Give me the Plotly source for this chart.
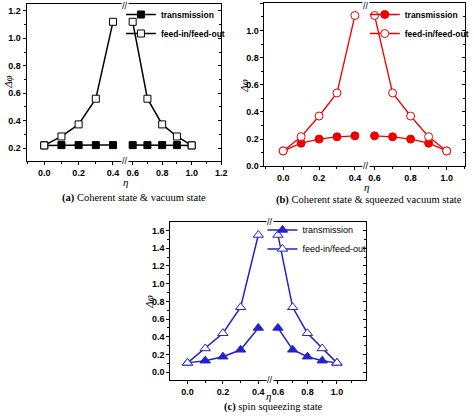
import plotly.graph_objects as go

W, H = 474, 419

# ---------------- data ----------------
eta = [0.0, 0.1, 0.2, 0.3, 0.4, 0.6, 0.7, 0.8, 0.9, 1.0]

a_trans = [0.22, 0.222, 0.222, 0.222, 0.222, 0.222, 0.222, 0.222, 0.222, 0.22]
a_feed = [0.22, 0.285, 0.373, 0.56, 1.12, 1.12, 0.56, 0.373, 0.285, 0.22]

b_trans = [0.113, 0.17, 0.20, 0.217, 0.224, 0.224, 0.217, 0.20, 0.17, 0.113]
b_feed = [0.113, 0.218, 0.37, 0.54, 1.11, 1.11, 0.54, 0.37, 0.218, 0.113]

c_trans = [0.105, 0.13, 0.175, 0.253, 0.50, 0.50, 0.253, 0.175, 0.13, 0.105]
c_feed = [0.105, 0.268, 0.44, 0.733, 1.55, 1.55, 0.733, 0.44, 0.268, 0.105]

series_names = ["transmission", "feed-in/feed-out"]
captions = ["<b>(a)</b> Coherent state & vacuum state",
            "<b>(b)</b> Coherent state & squeezed vacuum state",
            "<b>(c)</b> spin squeezing state"]

# ---------------- layout helpers ----------------
def fx(p):
    return p / W

def fy(p):
    return 1 - p / H

panels = [
    dict(L=27, B=127, R=225, T=4, Bo=163, rL=[-0.103, 0.469], rR=[0.547, 1.2],
         ry=[0.106, 1.25], ytick0=0.2, color="black", sym="square", size=7, lw=1.5,
         data=(a_trans, a_feed), leg=(123, 0), legbold=True, legsize=8.5,
         ytitle=(8, 83), xtitle=(128, 184), cap=(136, 200)),
    dict(L=269, B=372.7, R=473, T=3.3, Bo=168.3, rL=[-0.1045, 0.464], rR=[0.5547, 1.102],
         ry=[0.0, 1.2], ytick0=0.0, color="#ee0000", sym="circle", size=8, lw=1.3,
         data=(b_trans, b_feed), leg=(371, 0), legbold=True, legsize=8.5,
         ytitle=(248, 87), xtitle=(372.7, 189), cap=(375.5, 202)),
    dict(L=173.3, B=275, R=372, T=225, Bo=385, rL=[-0.0967, 0.468], rR=[0.5487, 1.195],
         ry=[-0.093, 1.693], ytick0=0.0, color="#2222cc", sym="triangle-up", size=9, lw=1.5,
         data=(c_trans, c_feed), leg=(267, 218), legbold=False, legsize=9,
         ytitle=(152, 305), xtitle=(273, 401), cap=(278, 412)),
]

fig = go.Figure()
layout = dict(width=W, height=H, margin=dict(l=0, r=0, t=0, b=0),
              plot_bgcolor="white", paper_bgcolor="white", showlegend=True)
annotations = []

tickfont = dict(family="Liberation Sans", size=9, color="black", weight="bold")

def akey(kind, n):
    return f"{kind}axis" if n == 1 else f"{kind}axis{n}"

def aref(kind, n):
    return kind if n == 1 else f"{kind}{n}"

def note(x, y, text, font, **kw):
    d = dict(x=fx(x), y=fy(y), xref="paper", yref="paper", text=text,
             showarrow=False, xanchor="center", yanchor="middle", font=font)
    d.update(kw)
    annotations.append(d)

for i, p in enumerate(panels):
    xl, xr = 2 * i + 1, 2 * i + 2
    yl, yr = 2 * i + 1, 2 * i + 2
    xtl, xtr = 7 + 2 * i, 8 + 2 * i
    dom_y = [fy(p["Bo"]), fy(p["T"])]
    common_x = dict(showline=True, linecolor="black", linewidth=1, mirror=True,
                    ticks="outside", ticklen=3, tickcolor="black", tickwidth=1,
                    dtick=0.2, tick0=0, tickformat=".1f", tickfont=tickfont,
                    showgrid=False, zeroline=False,
                    minor=dict(dtick=0.1, tick0=0, ticks="outside", ticklen=2,
                               tickcolor="black", showgrid=False))
    layout[akey("x", xl)] = dict(common_x, domain=[fx(p["L"]), fx(p["B"])],
                                 range=p["rL"], anchor=aref("y", yl))
    layout[akey("x", xr)] = dict(common_x, domain=[fx(p["B"]), fx(p["R"])],
                                 range=p["rR"], anchor=aref("y", yr))
    # top inward ticks
    top_x = dict(showline=False, ticks="inside", ticklen=3, tickcolor="black",
                 dtick=0.2, tick0=0, showticklabels=False, showgrid=False,
                 zeroline=False, side="top",
                 minor=dict(dtick=0.1, tick0=0, ticks="inside", ticklen=2,
                            tickcolor="black", showgrid=False))
    layout[akey("x", xtl)] = dict(top_x, overlaying=aref("x", xl), range=p["rL"],
                                  anchor=aref("y", yl))
    layout[akey("x", xtr)] = dict(top_x, overlaying=aref("x", xr), range=p["rR"],
                                  anchor=aref("y", yr))
    common_y = dict(showline=True, linecolor="black", linewidth=1, range=p["ry"],
                    domain=dom_y, dtick=0.2, tick0=p["ytick0"], tickformat=".1f",
                    showgrid=False, zeroline=False, tickcolor="black")
    layout[akey("y", yl)] = dict(common_y, anchor=aref("x", xl), side="left",
                                 ticks="outside", ticklen=3, tickfont=tickfont,
                                 minor=dict(dtick=0.1, ticks="outside", ticklen=2,
                                            tickcolor="black", showgrid=False))
    layout[akey("y", yr)] = dict(common_y, anchor=aref("x", xr), side="right",
                                 ticks="inside", ticklen=3, showticklabels=False,
                                 matches=aref("y", yl),
                                 minor=dict(dtick=0.1, ticks="inside", ticklen=2,
                                            tickcolor="black", showgrid=False))

    legname = "legend" if i == 0 else f"legend{i + 1}"
    layout[legname] = dict(x=fx(p["leg"][0]), y=fy(p["leg"][1]), xanchor="left",
                           yanchor="top", bgcolor="rgba(0,0,0,0)", borderwidth=0,
                           itemwidth=30, tracegroupgap=0,
                           font=dict(family="Liberation Sans", size=p["legsize"],
                                     color="black",
                                     weight="bold" if p["legbold"] else "normal"))

    for s, (name, vals) in enumerate(zip(series_names, p["data"])):
        filled = s == 0
        for seg, (xa, ya) in enumerate([(xl, yl), (xr, yr)]):
            xs = [e for e in eta if (e < 0.5) == (seg == 0)]
            ys = [v for e, v in zip(eta, vals) if (e < 0.5) == (seg == 0)]
            fig.add_trace(go.Scatter(
                x=xs, y=ys, mode="lines+markers", name=name,
                xaxis=aref("x", xa), yaxis=aref("y", ya),
                legendgroup=f"{i}-{s}", showlegend=(seg == 0), legend=legname,
                line=dict(color=p["color"], width=p["lw"]),
                marker=dict(symbol=p["sym"], size=p["size"],
                            color=p["color"] if filled else "white",
                            line=dict(color=p["color"], width=1))))

    serif = dict(family="Liberation Serif", size=11, color="black")
    note(p["ytitle"][0], p["ytitle"][1], "<i>Δφ</i>", serif, textangle=-90)
    note(p["xtitle"][0], p["xtitle"][1], "<i>η</i>", serif)
    note(p["cap"][0], p["cap"][1], captions[i],
         dict(family="Liberation Serif", size=10.5, color="black"))
    # axis break marks
    for yy in (max(p["T"], 6), p["Bo"]):
        note(p["B"], yy, "//", dict(family="Liberation Sans", size=9, color="black"),
             bgcolor="white", borderpad=0)

layout["annotations"] = annotations
fig.update_layout(**layout)
fig.write_html("out.html")
